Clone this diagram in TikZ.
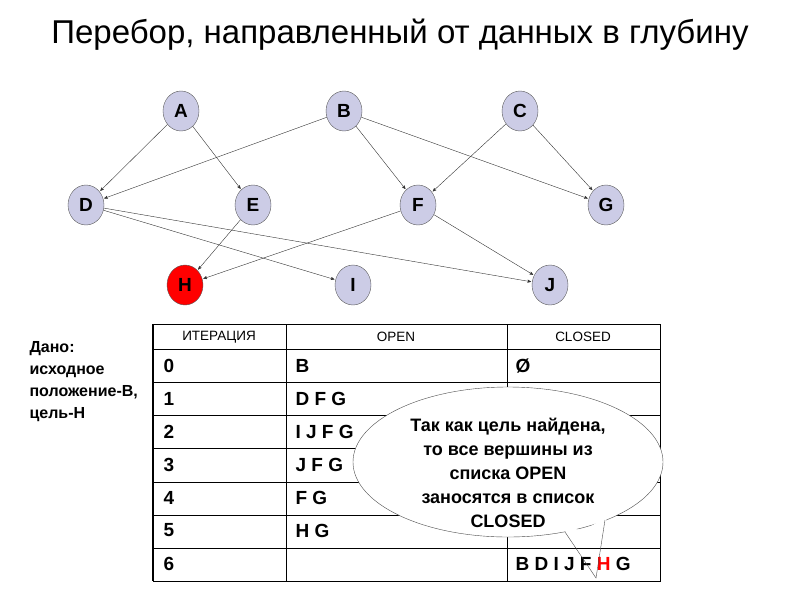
\documentclass[tikz,border=0pt]{standalone}
\usepackage{fontspec}
\setmainfont{Liberation Sans}
\usetikzlibrary{shapes.geometric,arrows}
\begin{document}
\begin{tikzpicture}[x=1pt,y=-1pt,
  vert/.style={draw=gray!70!black,fill={rgb,255:red,204;green,204;blue,230},ellipse,minimum width=36pt,minimum height=40pt,inner sep=0pt,font=\fontsize{19}{19}\selectfont\bfseries},
  goal/.style={vert,fill=red},
  arc/.style={->,>=stealth',gray!40!black,shorten >=1pt},
  cell/.style={anchor=west,font=\fontsize{19}{19}\selectfont\bfseries},
  head/.style={font=\fontsize{13.5}{13.5}\selectfont}]
  \useasboundingbox (0,0) rectangle (800,600);
  \node (title) at (400,35) {\fontsize{33}{33}\selectfont Перебор, направленный от данных в глубину};

  % graph
  \node[vert] (A) at (181,111) {A};
  \node[vert] (B) at (344,111) {B};
  \node[vert] (C) at (520,111) {C};
  \node[vert] (D) at (86,205) {D};
  \node[vert] (E) at (253,205) {E};
  \node[vert] (F) at (418,205) {F};
  \node[vert] (G) at (606,205) {G};
  \node[goal] (H) at (185,285) {H};
  \node[vert] (I) at (353,285) {I};
  \node[vert] (J) at (550,285) {J};
  \foreach \s/\t in {A/D,A/E,B/D,B/F,B/G,C/F,C/G,D/I,D/J,E/H,F/H,F/J}
    \draw[arc] (\s) -- (\t);

  \node[align=left,anchor=north west,font=\fontsize{16}{22}\selectfont\bfseries] (given) at (26,338)
    {Дано:\\исходное\\положение-В,\\цель-Н};

  % table
  \draw[thick] (153,324) rectangle (660,581);
  \draw[line width=2pt] (153,324) -- (153,581);
  \foreach \y in {349,382,415,448,482,515,548}
    \draw (153,\y) -- (660,\y);
  \draw (286,324) -- (286,581);
  \draw (507,324) -- (507,581);
  \node[head] (h1) at (219,337) {ИТЕРАЦИЯ};
  \node[head] (h2) at (396,337) {OPEN};
  \node[head] (h3) at (583,337) {CLOSED};
  \foreach \i [count=\r from 0] in {0,1,2,3,4,5,6}
    \node[cell] (r\r) at (160,365.5+33*\r) {\i};
  \foreach \o [count=\r from 0] in {B,D F G,I J F G,J F G,F G,H G}
    \node[cell] (o\r) at (292,365.5+33*\r) {\o};
  \node[cell] (c0) at (512,365.5) {Ø};
  \node[cell] (c6) at (512,563.5) {B D I J F \textcolor{red}{H} G};

  % callout
  \node[ellipse,draw=gray!60!black,fill=white,minimum width=310pt,minimum height=150pt] (bubble) at (508,462) {};
  \fill[white] (563,528) -- (585,530) -- (607,516) -- (600,545) -- (575,545) -- cycle;
  \draw[gray!60!black] (565,532) -- (596,578) -- (605,520);
  \node[align=center,font=\fontsize{18}{24}\selectfont\bfseries] (note) at (508,473)
    {Так как цель найдена,\\то все вершины из\\списка OPEN\\заносятся в список\\CLOSED};
\end{tikzpicture}
\end{document}
